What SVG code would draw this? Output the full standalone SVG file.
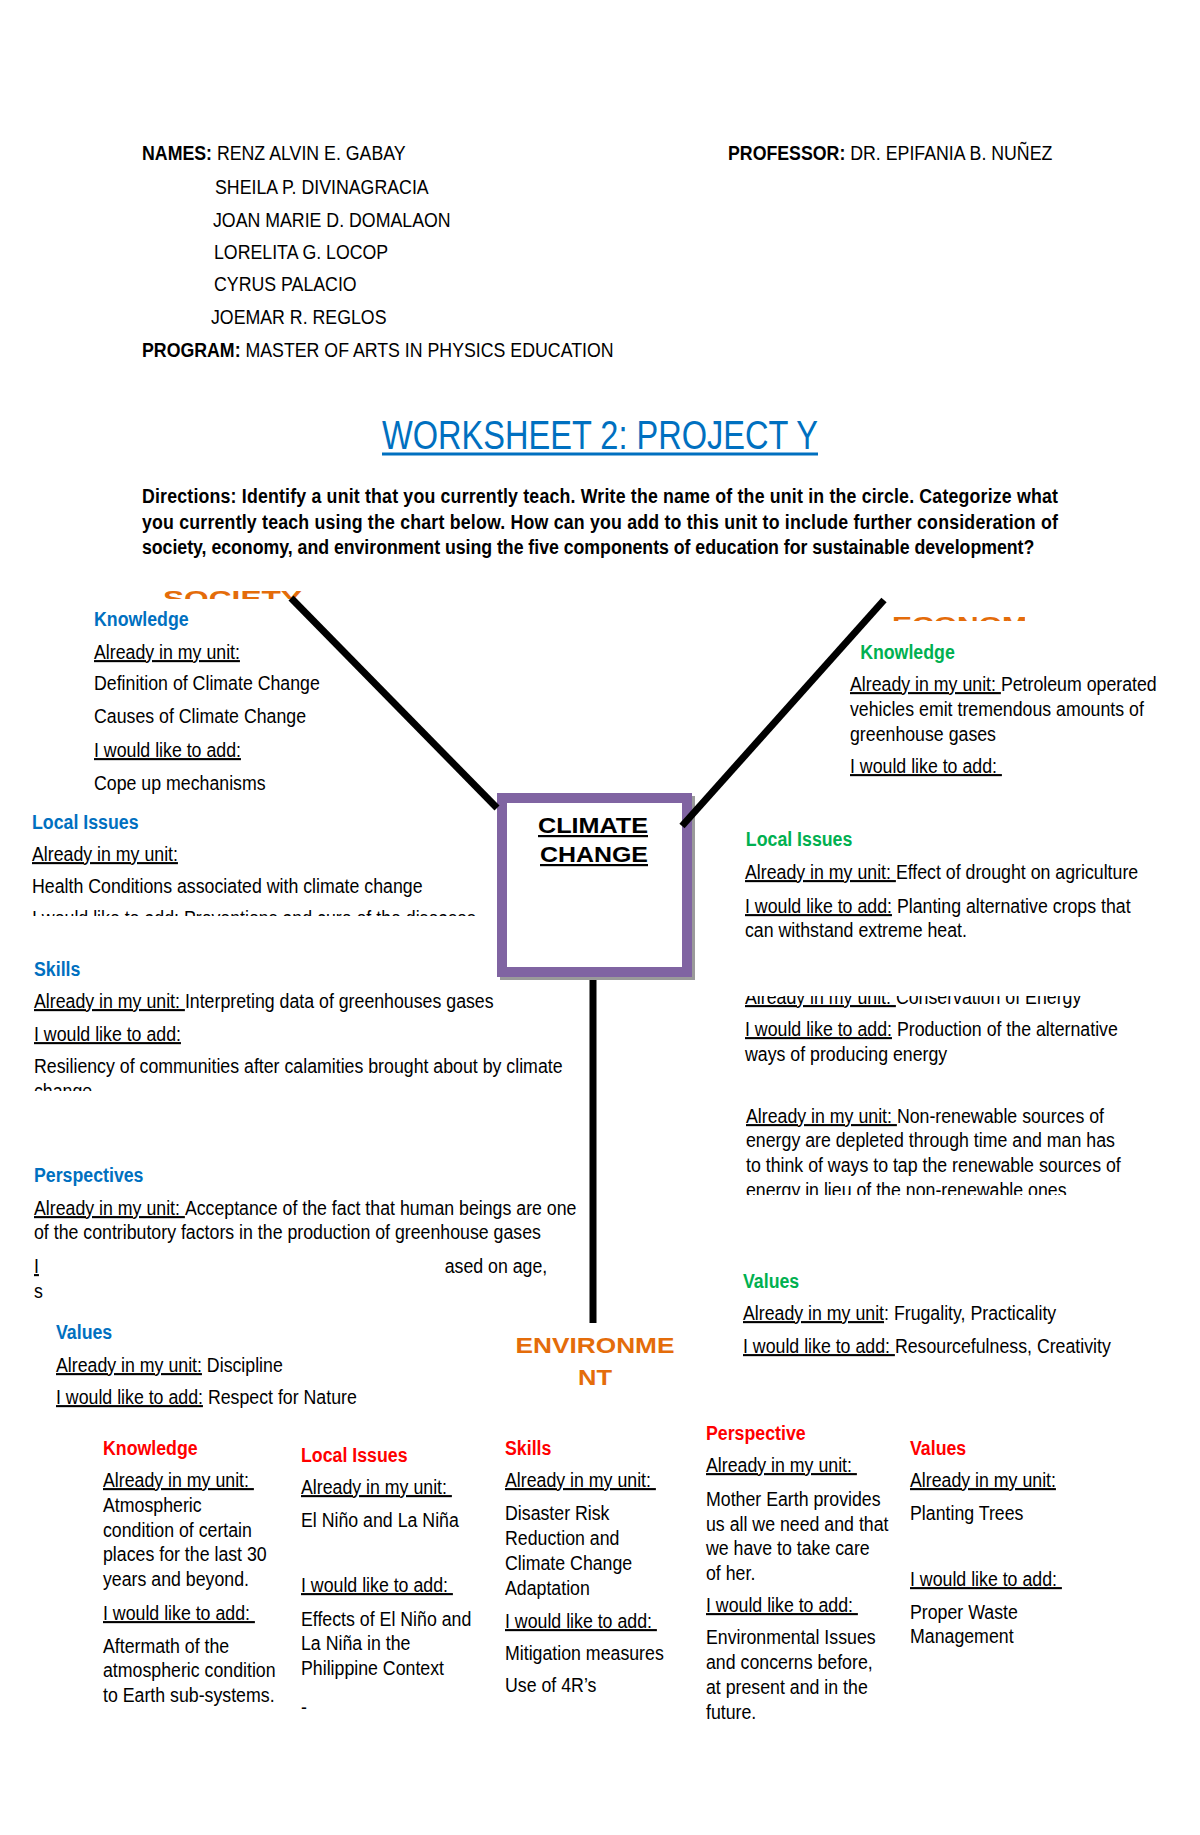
<svg xmlns="http://www.w3.org/2000/svg" width="1200" height="1835" viewBox="0 0 1200 1835">
<style>
text{font-family:'Liberation Sans',Arial,sans-serif;font-size:21px;fill:#000}
.b{font-weight:bold}
.blue{fill:#0070C0}
.green{fill:#00B050}
.red{fill:#FF0000}
.lbl{font-weight:bold;font-size:22px;fill:#E46C0A}
.u{text-decoration:underline}
.conn{stroke:#000;stroke-width:7;stroke-linecap:butt}
</style>
<defs>
<clipPath id="cSoc"><rect x="0" y="0" width="1200" height="599"/></clipPath>
<clipPath id="cEco"><rect x="880" y="600" width="145" height="21"/></clipPath>
<clipPath id="cPrev"><rect x="-100" y="880" width="2000" height="36"/></clipPath>
<clipPath id="cChange"><rect x="-100" y="1075" width="2000" height="16"/></clipPath>
<clipPath id="cCons"><rect x="-100" y="996" width="2000" height="20"/></clipPath>
<clipPath id="cLieu"><rect x="-100" y="1175" width="2000" height="20"/></clipPath>
</defs>
<rect width="1200" height="1835" fill="#fff"/>

<g id="header">
<text transform="translate(142 0) scale(.845 1)" y="160"><tspan class="b">NAMES:</tspan> RENZ ALVIN E. GABAY</text>
<text transform="translate(215 0) scale(.845 1)" y="194">SHEILA P. DIVINAGRACIA</text>
<text transform="translate(213 0) scale(.845 1)" y="227">JOAN MARIE D. DOMALAON</text>
<text transform="translate(214 0) scale(.845 1)" y="259">LORELITA G. LOCOP</text>
<text transform="translate(214 0) scale(.845 1)" y="291">CYRUS PALACIO</text>
<text transform="translate(211 0) scale(.845 1)" y="324">JOEMAR R. REGLOS</text>
<text transform="translate(142 0) scale(.845 1)" y="357"><tspan class="b">PROGRAM:</tspan> MASTER OF ARTS IN PHYSICS EDUCATION</text>
<text transform="translate(728 0) scale(.845 1)" y="160"><tspan class="b">PROFESSOR:</tspan> DR. EPIFANIA B. NUÑEZ</text>
</g>

<g id="title">
<text x="382" y="449" class="blue" style="font-size:40px" textLength="436" lengthAdjust="spacingAndGlyphs">WORKSHEET 2: PROJECT Y</text>
<rect x="382" y="452.5" width="436" height="3" fill="#0070C0"/>
</g>

<g id="directions" transform="translate(142 0) scale(.845 1)">
<text class="b" x="0" y="503" textLength="1084" lengthAdjust="spacing">Directions: Identify a unit that you currently teach. Write the name of the unit in the circle. Categorize what</text>
<text class="b" x="0" y="529" textLength="1084" lengthAdjust="spacing">you currently teach using the chart below. How can you add to this unit to include further consideration of</text>
<text class="b" x="0" y="554" textLength="1056" lengthAdjust="spacing">society, economy, and environment using the five components of education for sustainable development?</text>
</g>

<g id="society-label">
<text class="lbl" x="163" y="606" clip-path="url(#cSoc)" textLength="139" lengthAdjust="spacingAndGlyphs">SOCIETY</text>
</g>
<g id="economy-label">
<text class="lbl" x="892" y="632" clip-path="url(#cEco)" textLength="155" lengthAdjust="spacingAndGlyphs">ECONOMY</text>
</g>
<g id="environment-label">
<text class="lbl" x="595" y="1353" text-anchor="middle" textLength="159" lengthAdjust="spacingAndGlyphs">ENVIRONME</text>
<text class="lbl" x="595" y="1385" text-anchor="middle" textLength="34" lengthAdjust="spacingAndGlyphs">NT</text>
</g>

<g id="center-box">
<rect x="500" y="796" width="195" height="184" fill="#9a9a9a"/>
<rect x="502" y="798" width="185" height="174" fill="#fff" stroke="#8064A2" stroke-width="10"/>
<text x="593" y="833" text-anchor="middle" class="b u" style="font-size:22px" textLength="110" lengthAdjust="spacingAndGlyphs">CLIMATE</text>
<text x="594" y="862" text-anchor="middle" class="b u" style="font-size:22px" textLength="108" lengthAdjust="spacingAndGlyphs">CHANGE</text>
</g>

<g id="connectors">
<line class="conn" x1="291" y1="598" x2="497" y2="808"/>
<line class="conn" x1="884" y1="600" x2="682" y2="826"/>
<line class="conn" x1="593" y1="980" x2="593" y2="1323"/>
</g>

<g id="society-knowledge" transform="translate(94 0) scale(.845 1)">
<text class="b blue" x="0" y="626">Knowledge</text>
<text class="u" x="0" y="659">Already in my unit:</text>
<text x="0" y="690">Definition of Climate Change</text>
<text x="0" y="723">Causes of Climate Change</text>
<text class="u" x="0" y="757">I would like to add:</text>
<text x="0" y="790">Cope up mechanisms</text>
</g>

<g id="society-local-issues" transform="translate(32 0) scale(.845 1)">
<text class="b blue" x="0" y="829">Local Issues</text>
<text class="u" x="0" y="861">Already in my unit:</text>
<text x="0" y="893">Health Conditions associated with climate change</text>
<text x="0" y="925" clip-path="url(#cPrev)"><tspan class="u">I would like to add:</tspan> Preventions and cure of the diseases</text>
</g>

<g id="society-skills" transform="translate(34 0) scale(.845 1)">
<text class="b blue" x="0" y="976">Skills</text>
<text x="0" y="1008"><tspan class="u">Already in my unit: </tspan>Interpreting data of greenhouses gases</text>
<text class="u" x="0" y="1041">I would like to add:</text>
<text x="0" y="1073">Resiliency of communities after calamities brought about by climate</text>
<text x="0" y="1098" clip-path="url(#cChange)">change</text>
</g>

<g id="society-perspectives" transform="translate(34 0) scale(.845 1)">
<text class="b blue" x="0" y="1182">Perspectives</text>
<text x="0" y="1215"><tspan class="u">Already in my unit: </tspan>Acceptance of the fact that human beings are one</text>
<text x="0" y="1239">of the contributory factors in the production of greenhouse gases</text>
<text class="u" x="0" y="1273">I</text>
<text x="486" y="1273">ased on age,</text>
<text x="0" y="1298">s</text>
</g>

<g id="society-values" transform="translate(56 0) scale(.845 1)">
<text class="b blue" x="0" y="1339">Values</text>
<text x="0" y="1372"><tspan class="u">Already in my unit:</tspan> Discipline</text>
<text x="0" y="1404"><tspan class="u">I would like to add:</tspan> Respect for Nature</text>
</g>

<g id="economy-knowledge" transform="translate(850 0) scale(.845 1)">
<text class="b green" x="12" y="659">Knowledge</text>
<text x="0" y="691"><tspan class="u">Already in my unit: </tspan>Petroleum operated</text>
<text x="0" y="716">vehicles emit tremendous amounts of</text>
<text x="0" y="741">greenhouse gases</text>
<text class="u" x="0" y="773">I would like to add:&#160;</text>
</g>

<g id="economy-local-issues" transform="translate(745 0) scale(.845 1)">
<text class="b green" x="1" y="846">Local Issues</text>
<text x="0" y="879"><tspan class="u">Already in my unit: </tspan>Effect of drought on agriculture</text>
<text x="0" y="913"><tspan class="u">I would like to add:</tspan> Planting alternative crops that</text>
<text x="0" y="937">can withstand extreme heat.</text>
</g>

<g id="economy-skills" transform="translate(745 0) scale(.845 1)">
<text x="0" y="1004" clip-path="url(#cCons)"><tspan class="u">Already in my unit: </tspan>Conservation of Energy</text>
<text x="0" y="1036"><tspan class="u">I would like to add:</tspan> Production of the alternative</text>
<text x="0" y="1061">ways of producing energy</text>
</g>

<g id="economy-perspectives" transform="translate(746 0) scale(.845 1)">
<text x="0" y="1123"><tspan class="u">Already in my unit: </tspan>Non-renewable sources of</text>
<text x="0" y="1147">energy are depleted through time and man has</text>
<text x="0" y="1172">to think of ways to tap the renewable sources of</text>
<text x="0" y="1197" clip-path="url(#cLieu)">energy in lieu of the non-renewable ones</text>
</g>

<g id="economy-values" transform="translate(743 0) scale(.845 1)">
<text class="b green" x="0" y="1288">Values</text>
<text x="0" y="1320"><tspan class="u">Already in my unit</tspan>: Frugality, Practicality</text>
<text x="0" y="1353"><tspan class="u">I would like to add: </tspan>Resourcefulness, Creativity</text>
</g>

<g id="environment-knowledge" transform="translate(103 0) scale(.845 1)">
<text class="b red" x="0" y="1455">Knowledge</text>
<text class="u" x="0" y="1487">Already in my unit:&#160;</text>
<text x="0" y="1512">Atmospheric</text>
<text x="0" y="1537">condition of certain</text>
<text x="0" y="1561">places for the last 30</text>
<text x="0" y="1586">years and beyond.</text>
<text class="u" x="0" y="1620">I would like to add:&#160;</text>
<text x="0" y="1653">Aftermath of the</text>
<text x="0" y="1677">atmospheric condition</text>
<text x="0" y="1702">to Earth sub-systems.</text>
</g>

<g id="environment-local-issues" transform="translate(301 0) scale(.845 1)">
<text class="b red" x="0" y="1462">Local Issues</text>
<text class="u" x="0" y="1494">Already in my unit:&#160;</text>
<text x="0" y="1527">El Niño and La Niña</text>
<text class="u" x="0" y="1592">I would like to add:&#160;</text>
<text x="0" y="1626">Effects of El Niño and</text>
<text x="0" y="1650">La Niña in the</text>
<text x="0" y="1675">Philippine Context</text>
<text x="0" y="1714">-</text>
</g>

<g id="environment-skills" transform="translate(505 0) scale(.845 1)">
<text class="b red" x="0" y="1455">Skills</text>
<text class="u" x="0" y="1487">Already in my unit:&#160;</text>
<text x="0" y="1520">Disaster Risk</text>
<text x="0" y="1545">Reduction and</text>
<text x="0" y="1570">Climate Change</text>
<text x="0" y="1595">Adaptation</text>
<text class="u" x="0" y="1628">I would like to add:&#160;</text>
<text x="0" y="1660">Mitigation measures</text>
<text x="0" y="1692">Use of 4R’s</text>
</g>

<g id="environment-perspective" transform="translate(706 0) scale(.845 1)">
<text class="b red" x="0" y="1440">Perspective</text>
<text class="u" x="0" y="1472">Already in my unit:&#160;</text>
<text x="0" y="1506">Mother Earth provides</text>
<text x="0" y="1531">us all we need and that</text>
<text x="0" y="1555">we have to take care</text>
<text x="0" y="1580">of her.</text>
<text class="u" x="0" y="1612">I would like to add:&#160;</text>
<text x="0" y="1644">Environmental Issues</text>
<text x="0" y="1669">and concerns before,</text>
<text x="0" y="1694">at present and in the</text>
<text x="0" y="1719">future.</text>
</g>

<g id="environment-values" transform="translate(910 0) scale(.845 1)">
<text class="b red" x="0" y="1455">Values</text>
<text class="u" x="0" y="1487">Already in my unit:</text>
<text x="0" y="1520">Planting Trees</text>
<text class="u" x="0" y="1586">I would like to add:&#160;</text>
<text x="0" y="1619">Proper Waste</text>
<text x="0" y="1643">Management</text>
</g>
</svg>
